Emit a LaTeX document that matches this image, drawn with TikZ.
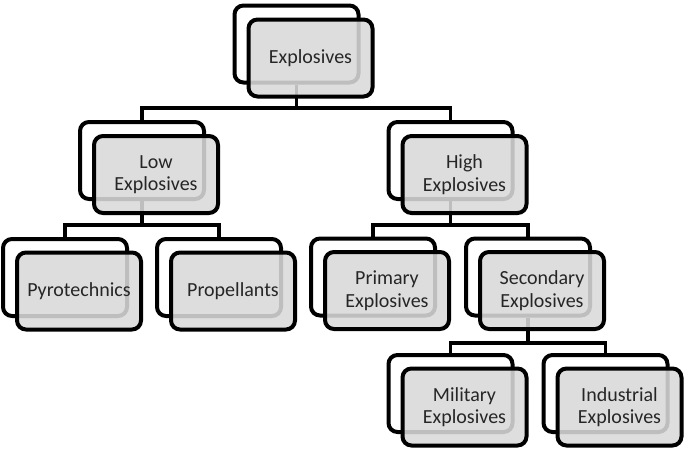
\documentclass[tikz,border=0pt]{standalone}
\usepackage{fontspec}
\setmainfont{Carlito}
\tikzset{
  cardback/.style={draw=black, fill=white, line width=4pt, rounded corners=9pt,
    minimum width=124pt, minimum height=77pt, inner sep=0pt},
  cardfront/.style={cardback, fill=black!15, fill opacity=.88, text opacity=1,
    text=black!85, align=center, font=\fontsize{20}{22.5}\selectfont},
  link/.style={line width=3.5pt}
}
\begin{document}
\begin{tikzpicture}[x=1pt, y=-1pt]
    \useasboundingbox (0,0) rectangle (685,450);
    % back cards
    \node[cardback] (expb) at (296.5,44) {};
    \node[cardback] (lowb) at (142,160.5) {};
    \node[cardback] (highb) at (450.5,160.5) {};
    \node[cardback] (pyrob) at (65,277.5) {};
    \node[cardback] (propb) at (219,277.5) {};
    \node[cardback] (primb) at (373,277) {};
    \node[cardback] (secb) at (528,277) {};
    \node[cardback] (milb) at (450.5,393.5) {};
    \node[cardback] (indb) at (605.5,393.5) {};
    % links
    \coordinate (j1) at (296.5,108);
    \coordinate (j2) at (142,225);
    \coordinate (j3) at (450.5,225);
    \coordinate (j4) at (528,343);
    \draw[link] (expb.south)--(j1);
    \draw[link] (lowb.north)|-(j1)-|(highb.north);
    \draw[link] (lowb.south)--(j2);
    \draw[link] (pyrob.north)|-(j2)-|(propb.north);
    \draw[link] (highb.south)--(j3);
    \draw[link] (primb.north)|-(j3)-|(secb.north);
    \draw[link] (secb.south)--(j4);
    \draw[link] (milb.north)|-(j4)-|(indb.north);
    % front cards
    \node[cardfront] (expf) at (310.5,58) {Explosives};
    \node[cardfront] (lowf) at (156,174.5) {Low\\Explosives};
    \node[cardfront] (highf) at (464.5,174.5) {High\\Explosives};
    \node[cardfront] (pyrof) at (79,291) {Pyrotechnics};
    \node[cardfront] (propf) at (233,291) {Propellants};
    \node[cardfront] (primf) at (387,290.5) {Primary\\Explosives};
    \node[cardfront] (secf) at (542,290.5) {Secondary\\Explosives};
    \node[cardfront] (milf) at (464.5,407) {Military\\Explosives};
    \node[cardfront] (indf) at (619.5,407) {Industrial\\Explosives};
\end{tikzpicture}
\end{document}
